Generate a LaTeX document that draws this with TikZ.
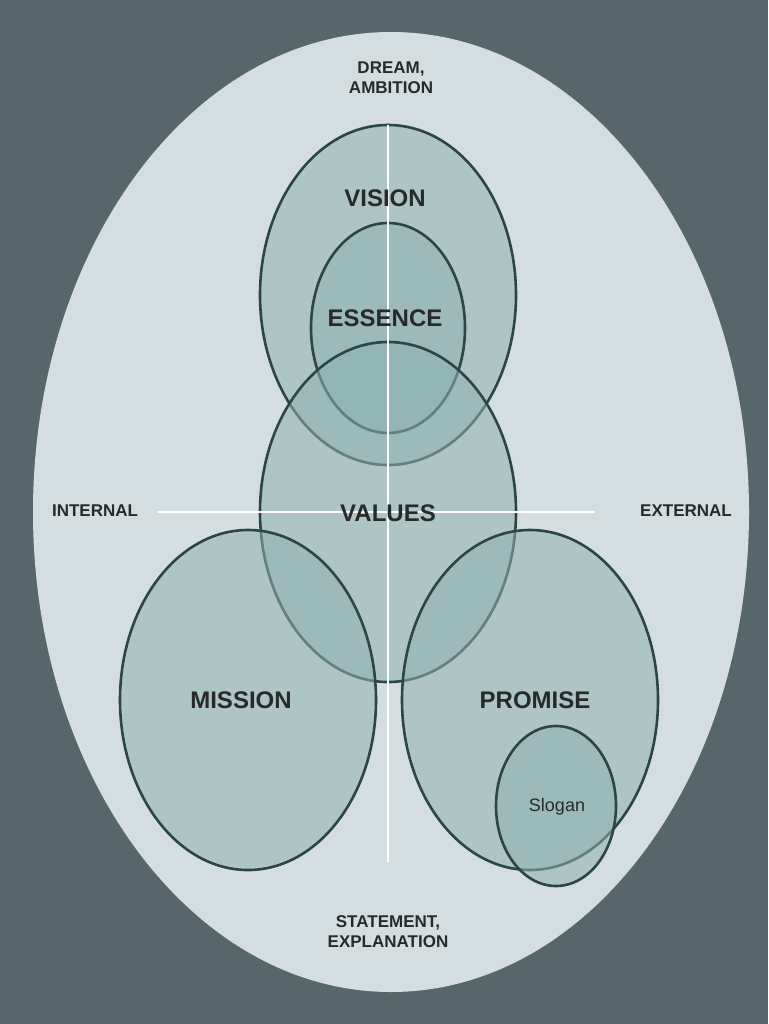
\documentclass[tikz,border=0pt]{standalone}
\usepackage{fontspec}
\setmainfont{Liberation Sans}
\begin{document}
\begin{tikzpicture}[x=1pt,y=-1pt,
  circ/.style={draw=ringc,line width=2.6pt,fill=fillc,fill opacity=0.55},
  big/.style={font=\bfseries\fontsize{24}{26}\selectfont,text=txt},
  small/.style={font=\bfseries\fontsize{17}{20}\selectfont,text=txt,align=center},
  wline/.style={white,line width=1.6pt}]
\definecolor{bg}{HTML}{56666A}
\definecolor{oval}{HTML}{D4DEE0}
\definecolor{fillc}{HTML}{8FB1B1}
\definecolor{ringc}{HTML}{2C4646}
\definecolor{txt}{HTML}{262A2A}
\fill[bg] (0,0) rectangle (768,1024);
\useasboundingbox (0,0) rectangle (768,1024);
\fill[oval] (391,512) ellipse [x radius=358, y radius=480];
\draw[circ] (388,295) ellipse [x radius=128, y radius=170];
\draw[circ] (388,328) ellipse [x radius=77, y radius=105];
\draw[circ] (388,512) ellipse [x radius=128, y radius=170];
\draw[circ] (248,700) ellipse [x radius=128, y radius=170];
\draw[circ] (530,700) ellipse [x radius=128, y radius=170];
\draw[circ] (556,806) ellipse [x radius=60, y radius=80];
\coordinate (vt) at (388,125); \coordinate (vb) at (388,862);
\coordinate (hl) at (158,512); \coordinate (hr) at (595,512);
\draw[wline] (vt) -- (vb);
\draw[wline] (hl) -- (hr);
\node[small] (dream) at (391,78) {DREAM,\\AMBITION};
\node[big] (vision) at (385,198) {VISION};
\node[big] (essence) at (385,318) {ESSENCE};
\node[big] (values) at (388,513) {VALUES};
\node[small] (internal) at (95,511) {INTERNAL};
\node[small] (external) at (686,511) {EXTERNAL};
\node[big] (mission) at (241,700) {MISSION};
\node[big] (promise) at (535,700) {PROMISE};
\node[font=\fontsize{18}{20}\selectfont,text=txt] (slogan) at (557,807) {Slogan};
\node[small] (stmt) at (388,932) {STATEMENT,\\EXPLANATION};
\end{tikzpicture}
\end{document}
